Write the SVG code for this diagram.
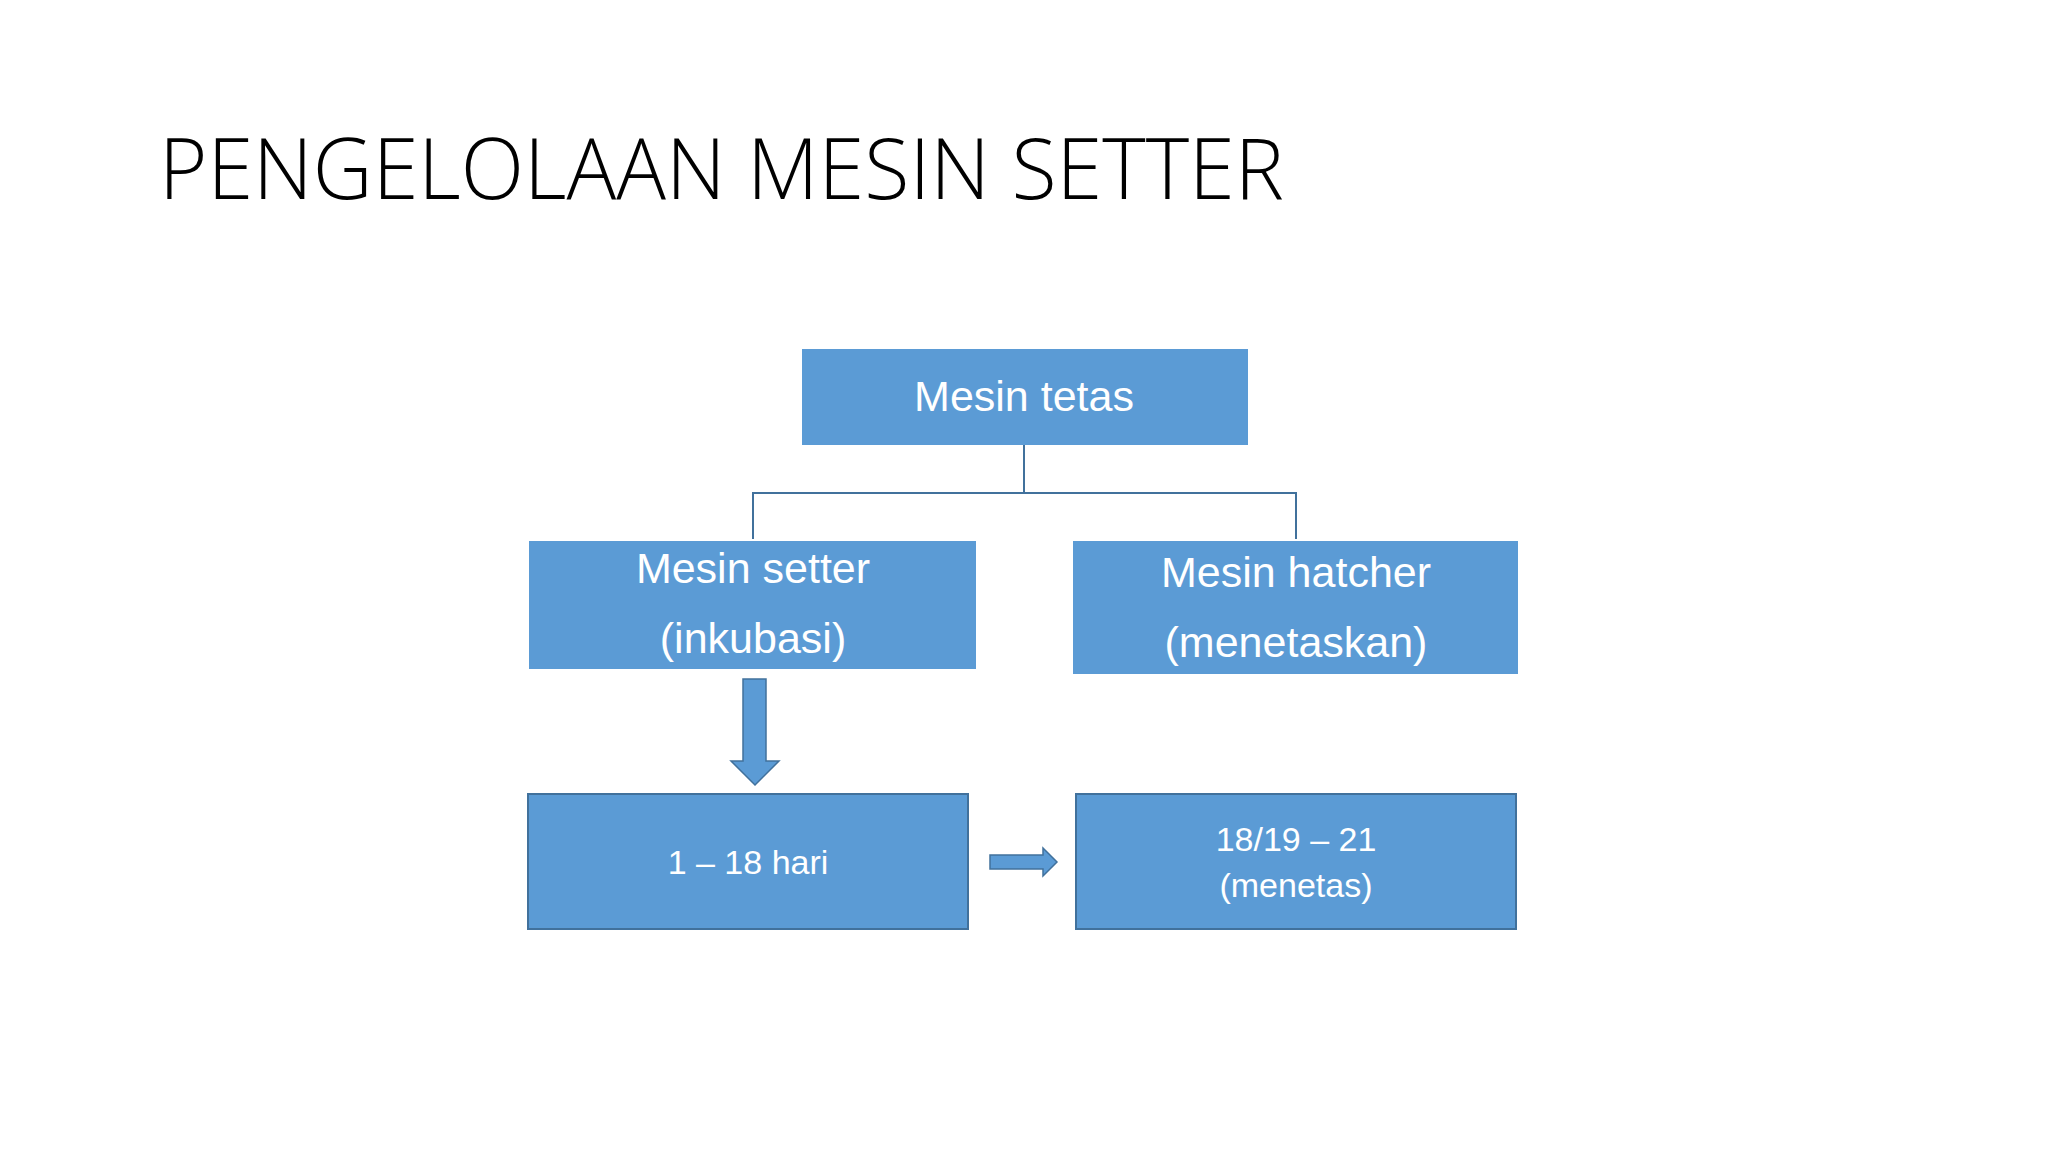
<svg xmlns="http://www.w3.org/2000/svg" width="2048" height="1152" viewBox="0 0 2048 1152">
<style>
.box{fill:#5B9BD5;}
.box2{fill:#5B9BD5;stroke:#41719C;stroke-width:2;}
.lbl{font-family:"Liberation Sans",Arial,sans-serif;fill:#FFFFFF;text-anchor:middle;}
.big{font-size:43px;}
.small{font-size:34px;}
.conn{fill:none;stroke:#41719C;stroke-width:2;}
.arrow{fill:#5B9BD5;stroke:#41719C;stroke-width:1.5;}
.title{font-family:"Open Sans","Liberation Sans",Arial,sans-serif;font-weight:300;font-size:84px;fill:#000000;}
</style>
<rect width="2048" height="1152" fill="#FFFFFF"/>
<text class="title" x="159" y="199" textLength="1125" lengthAdjust="spacingAndGlyphs">PENGELOLAAN MESIN SETTER</text>
<g id="connectors">
<polyline class="conn" points="1024,445 1024,493"/>
<polyline class="conn" points="753,539 753,493 1296,493 1296,539"/>
<path id="arrow-down" class="arrow" d="M743,679 H766 V761 H779 L755,785 L731,761 H743 Z"/>
<path id="arrow-right" class="arrow" d="M990,855 H1043 V848 L1057,862 L1043,876 V869 H990 Z"/>
</g>
<g id="node-mesin-tetas">
<rect class="box" x="802" y="349" width="446" height="96"/>
<text class="lbl big" x="1024" y="411">Mesin tetas</text>
</g>
<g id="node-mesin-setter">
<rect class="box" x="529" y="541" width="447" height="128"/>
<text class="lbl big" x="753" y="583">Mesin setter</text>
<text class="lbl big" x="753" y="653">(inkubasi)</text>
</g>
<g id="node-mesin-hatcher">
<rect class="box" x="1073" y="541" width="445" height="133"/>
<text class="lbl big" x="1296" y="587">Mesin hatcher</text>
<text class="lbl big" x="1296" y="657">(menetaskan)</text>
</g>
<g id="node-1-18">
<rect class="box2" x="528" y="794" width="440" height="135"/>
<text class="lbl small" x="748" y="874">1 – 18 hari</text>
</g>
<g id="node-18-21">
<rect class="box2" x="1076" y="794" width="440" height="135"/>
<text class="lbl small" x="1296" y="851">18/19 – 21</text>
<text class="lbl small" x="1296" y="897">(menetas)</text>
</g>
</svg>
